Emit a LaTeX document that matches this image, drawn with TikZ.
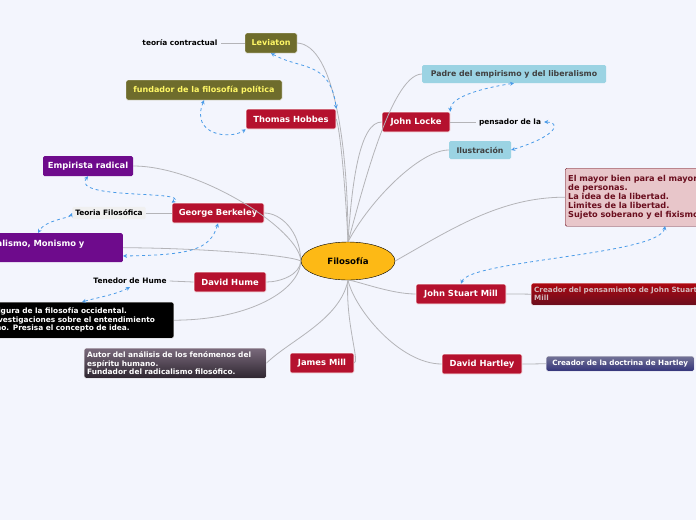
\documentclass[tikz,border=0pt]{standalone}
\usepackage{fontspec}
\setmainfont{DejaVu Sans}
\usetikzlibrary{shapes.geometric,arrows.meta}
\definecolor{bg}{HTML}{F3F5FD}
\definecolor{redn}{HTML}{B5112E}
\definecolor{olive}{HTML}{6E6C2C}
\definecolor{lblue}{HTML}{9BD3E3}
\definecolor{purp}{HTML}{6E0B8C}
\definecolor{pink}{HTML}{E8C6CA}
\definecolor{dred}{HTML}{6A0E1E}
\definecolor{conn}{HTML}{B4B4B8}
\definecolor{dash}{HTML}{4A9BE8}
\definecolor{fyel}{HTML}{FDB915}
\definecolor{gtop}{HTML}{7A6A7C}
\definecolor{gbot}{HTML}{2E2630}
\tikzset{
  x=1pt,y=-1pt,
  base/.style={font=\fontsize{7.4}{8.6}\selectfont\bfseries,inner sep=3pt,rounded corners=1.5pt},
  rednode/.style={base,fill=redn,text=white,draw=white,line width=0.6pt,minimum height=20pt,font=\fontsize{8.4}{10}\selectfont\bfseries},
  olivenode/.style={base,fill=olive,text=yellow!60!white,draw=white,minimum height=20pt,font=\fontsize{8}{10}\selectfont\bfseries},
  bluenode/.style={base,fill=lblue,text=black!75,minimum height=18pt,font=\fontsize{7.8}{9}\selectfont\bfseries},
  plain/.style={base,text=black},
  conline/.style={draw=conn,line width=0.8pt},
  darr/.style={draw=dash,dashed,line width=0.8pt,{Stealth[length=4pt,width=4pt]}-{Stealth[length=4pt,width=4pt]}},
}
\begin{document}
\begin{tikzpicture}
\fill[bg] (0,0) rectangle (696,520);
\useasboundingbox (0,0) rectangle (696,520);
\clip (0,0) rectangle (696,520);
% nodes
\node[ellipse,draw=black,fill=fyel,minimum width=94pt,minimum height=38pt,font=\fontsize{8.6}{10}\selectfont\bfseries] (f) at (348,261) {Filosofía};
\node[olivenode,minimum width=52pt] (lev) at (271,43) {Leviaton};
\node[plain] (tc) at (180,43) {teoría contractual};
\node[olivenode,minimum width=156pt] (fund) at (204,90) {fundador de la filosofía política};
\node[rednode,minimum width=90pt] (hob) at (291,119) {Thomas Hobbes};
\node[rednode,minimum width=68pt] (loc) at (416,122) {John Locke};
\node[bluenode,minimum width=184pt] (pad) at (514,74) {Padre del empirismo y del liberalismo};
\node[plain] (pen) at (510,122) {pensador de la};
\node[bluenode,minimum width=62pt] (ilu) at (480,150) {Ilustración};
\node[base,fill=pink,draw=dred,text=dred,anchor=north west,text width=210pt,align=left,minimum height=58pt,font=\fontsize{8.2}{9.2}\selectfont\bfseries] (may) at (565,168) {El mayor bien para el mayor número\\de personas.\\La idea de la libertad.\\Limites de la libertad.\\Sujeto soberano y el fixismo};
\node[base,fill=purp,text=white,minimum width=90pt,minimum height=20pt,font=\fontsize{8.4}{10}\selectfont\bfseries] (emp) at (88,166) {Empirista radical};
\node[plain,fill=black!6] (teo) at (109,213) {Teoria Filosófica};
\node[rednode,minimum width=92pt] (ber) at (218,213) {George Berkeley};
\node[base,fill=purp,text=white,anchor=north east,minimum height=29pt,text width=138pt,align=left,font=\fontsize{8.4}{10}\selectfont\bfseries] (pb) at (123,233) {Idealismo, Monismo y\\[-2pt]\hphantom{x}};
\node[plain] (ten) at (130,281) {Tenedor de Hume};
\node[rednode,minimum width=72pt] (hum) at (230,282) {David Hume};
\node[base,fill=black,text=white,draw=white,anchor=north east,minimum height=36pt,text width=198pt,align=left] (bb) at (174,302) {Gran figura de la filosofía occidental.\\Sus investigaciones sobre el entendimiento\\humano. Presisa el concepto de idea.};
\node[base,top color=gtop,bottom color=gbot,text=white,draw=white,anchor=north west,minimum height=30pt,text width=176pt,align=left] (aut) at (84,348) {Autor del análisis de los fenómenos del\\espíritu humano.\\Fundador del radicalismo filosófico.};
\node[rednode,minimum width=64pt] (jm) at (322,363) {James Mill};
\node[rednode,minimum width=90pt] (jsm) at (461,294) {John Stuart Mill};
\node[base,top color=red!45!dred,bottom color=dred,text=pink!80!gray,draw=white,anchor=north west,minimum height=22pt,text width=190pt,align=left,font=\fontsize{7.2}{8}\selectfont\bfseries] (cre) at (531,283) {Creador del pensamiento de John Stuart\\Mill};
\node[base,top color=blue!25!black!55,bottom color=blue!35!black!80,text=white,draw=white,anchor=north west,minimum height=15pt,minimum width=148pt,font=\fontsize{7.2}{8}\selectfont\bfseries] (cdh) at (546,356) {Creador de la doctrina de Hartley};
\node[rednode,minimum width=80pt] (har) at (482,364) {David Hartley};
% main connectors
\begin{scope}[conline]
\draw (f.north) .. controls (345,180) and (340,130) .. (hob.east);
\draw (f.north) .. controls (348,150) and (335,45) .. (lev.east);
\draw (f.north) .. controls (352,180) and (360,122) .. (loc.west);
\draw (f.north) .. controls (360,200) and (390,75) .. (pad.west);
\draw (f.north) .. controls (370,200) and (420,150) .. (ilu.west);
\draw (f.east) .. controls (450,230) and (500,197) .. (may.west);
\draw (f.west) .. controls (300,230) and (200,166) .. (emp.east);
\draw (f.west) .. controls (300,230) and (280,213) .. (ber.east);
\draw (f.west) .. controls (290,255) and (200,248) .. (pb.east);
\draw (f.west) .. controls (300,275) and (280,282) .. (hum.east);
\draw (f.west) .. controls (300,290) and (250,320) .. (bb.east);
\draw (f.south) .. controls (340,320) and (290,340) .. (aut.east);
\draw (f.south) .. controls (345,320) and (360,363) .. (jm.east);
\draw (f.south) .. controls (355,280) and (390,294) .. (jsm.west);
\draw (f.south) .. controls (355,310) and (400,364) .. (har.west);
\draw (lev.west) -- (tc.east);
\draw (teo.east) -- (ber.west);
\draw (ten.east) -- (hum.west);
\draw (loc.east) -- (pen.west);
\draw (jsm.east) .. controls (520,294) and (520,294) .. (cre.west);
\draw (har.east) .. controls (530,364) and (530,364) .. (cdh.west);
\end{scope}
% dashed arrows
\draw[darr] (lev.south) .. controls (300,70) and (330,60) .. (hob.north east);
\draw[darr] (fund.south) .. controls (190,135) and (230,140) .. (hob.south west);
\draw[darr] (loc.north east) .. controls (450,100) and (470,90) .. (pad.south);
\draw[darr] (pen.east) .. controls (560,122) and (560,135) .. (ilu.east);
\draw[darr] (emp.south) .. controls (70,200) and (190,190) .. (ber.north west);
\draw[darr] (teo.west) .. controls (70,218) and (45,220) .. (38,233);
\draw[darr] (ber.south) .. controls (210,250) and (190,255) .. (pb.east |- 0,256);
\draw[darr] (ten.south) .. controls (115,295) and (95,298) .. (82,302);
\draw[darr] (jsm.north) .. controls (470,260) and (660,255) .. (665,226);
\end{tikzpicture}
\end{document}
